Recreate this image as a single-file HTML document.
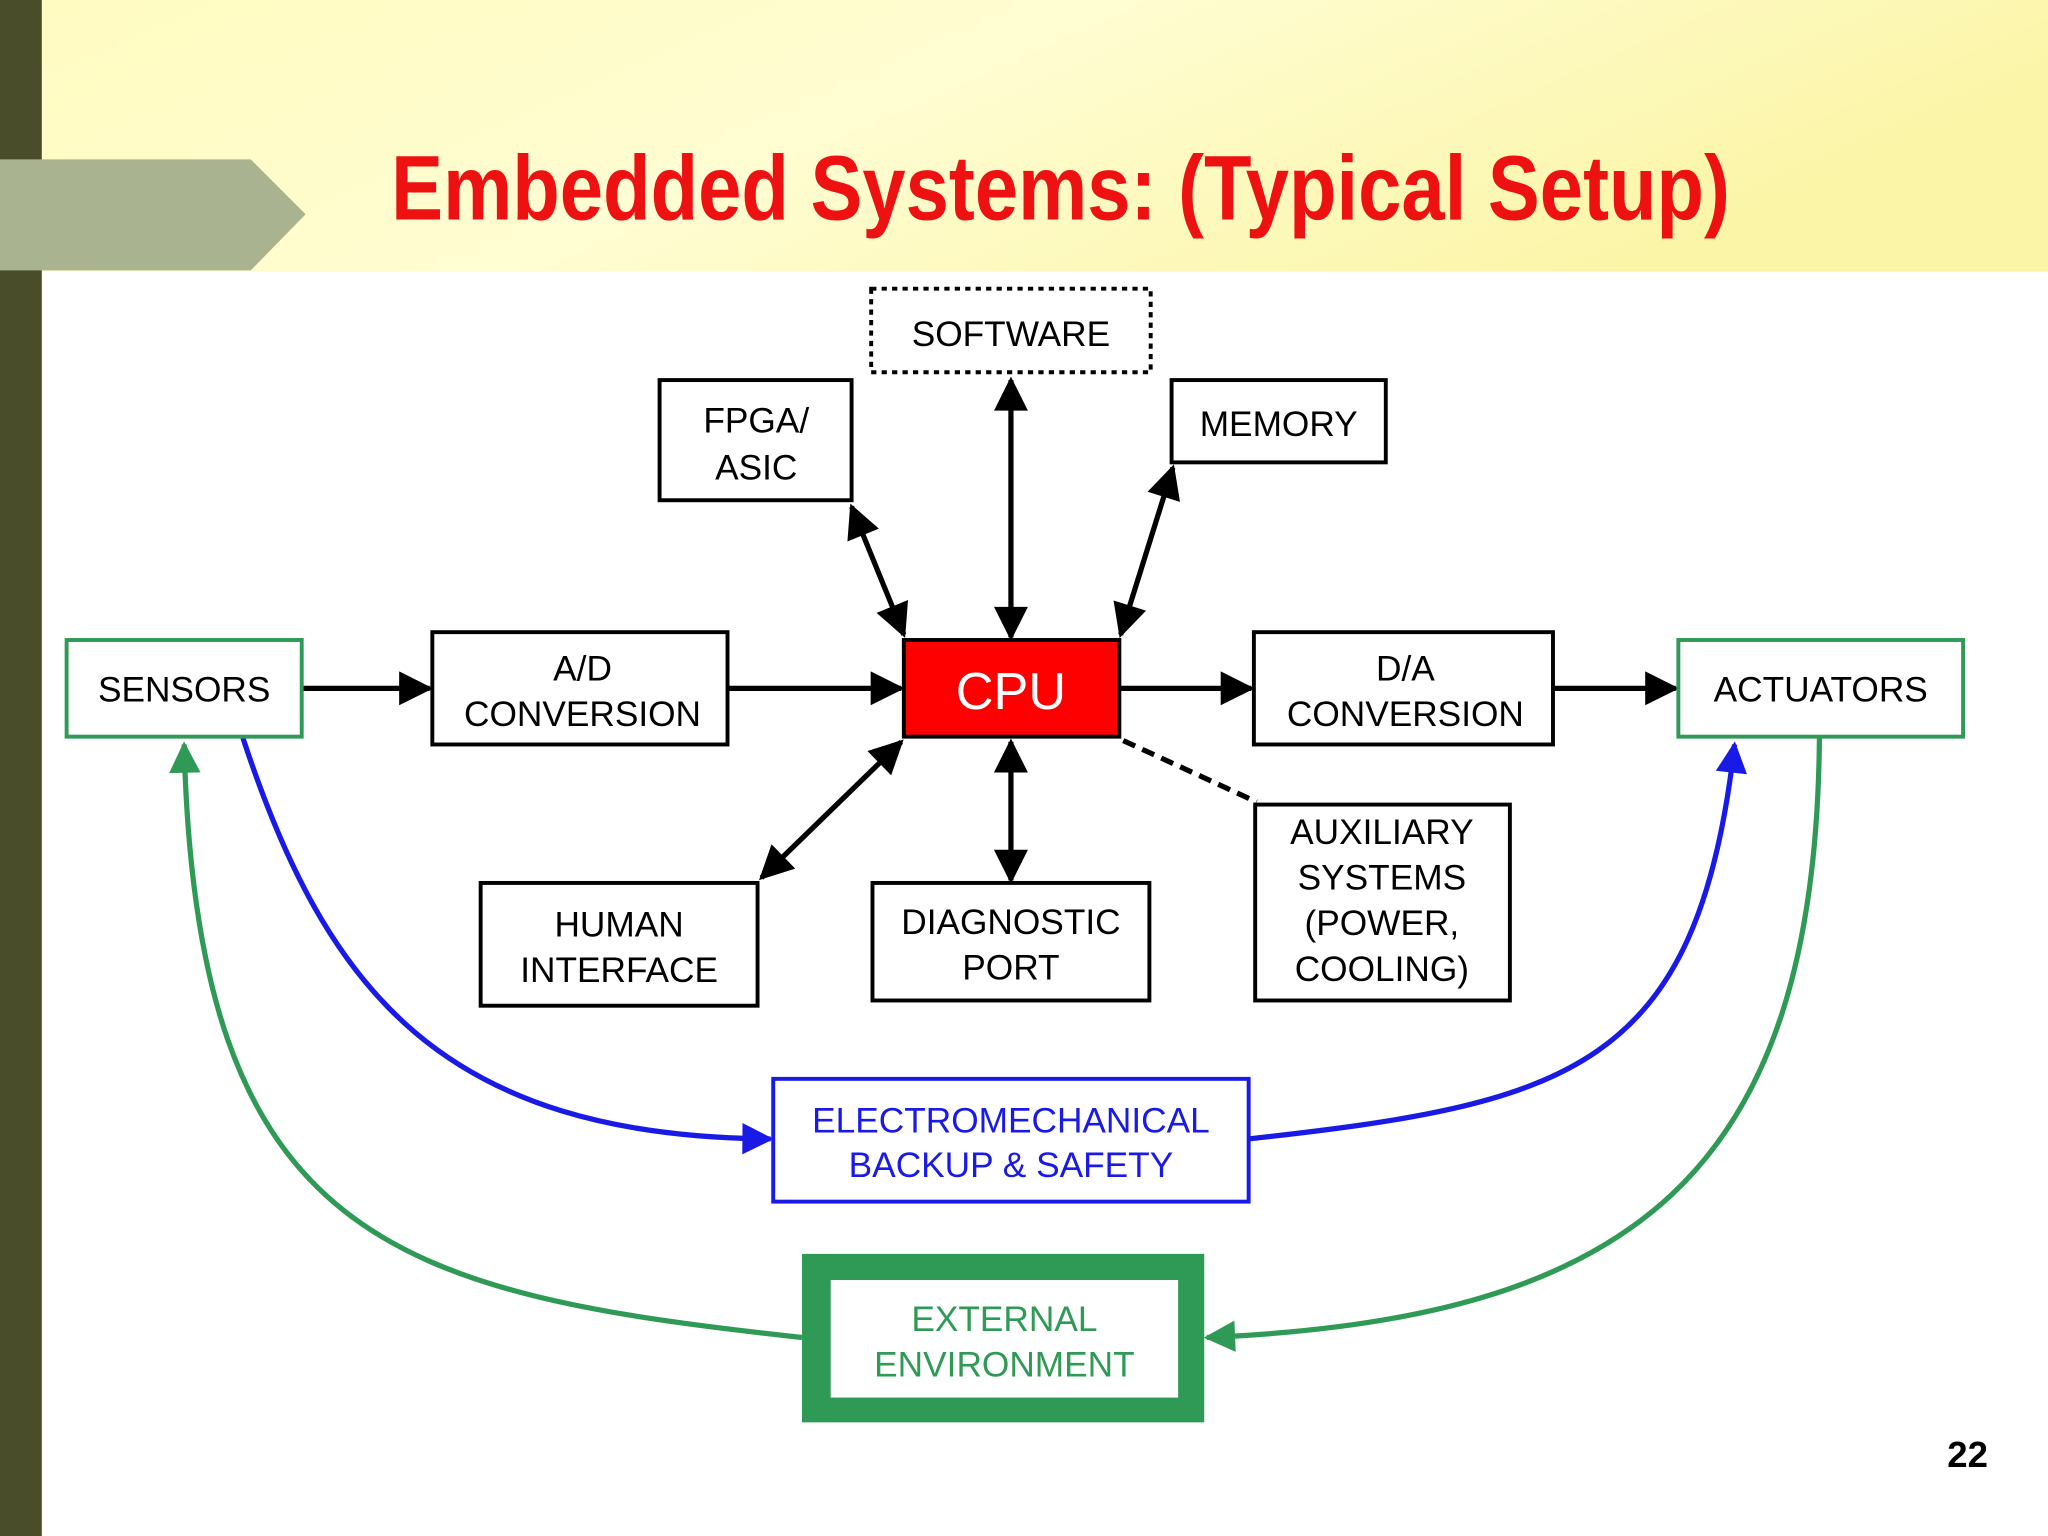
<!DOCTYPE html>
<html><head><meta charset="utf-8"><style>html,body{margin:0;padding:0;background:#fff}svg{display:block}</style></head><body>
<svg width="2048" height="1536" viewBox="0 0 1568 1176" xmlns="http://www.w3.org/2000/svg" font-family="Liberation Sans, Arial, sans-serif">
<defs>
<linearGradient id="hg" x1="0" y1="0" x2="1" y2="0.3"><stop offset="0" stop-color="#fffbc0"/><stop offset="0.5" stop-color="#fffdd2"/><stop offset="1" stop-color="#fbf5a8"/></linearGradient>
<marker id="ak" viewBox="0 0 10 10" refX="9" refY="5" markerWidth="6" markerHeight="6" markerUnits="userSpaceOnUse" orient="auto-start-reverse"><path d="M0,0 L10,5 L0,10 Z" fill="#000"/></marker>
<marker id="ab" viewBox="0 0 10 10" refX="9" refY="5" markerWidth="36" markerHeight="26" markerUnits="userSpaceOnUse" orient="auto-start-reverse"><path d="M0,0 L10,5 L0,10 Z" fill="#000"/></marker>
<marker id="abl" viewBox="0 0 10 10" refX="9" refY="5" markerWidth="34" markerHeight="24" markerUnits="userSpaceOnUse" orient="auto"><path d="M0,0 L10,5 L0,10 Z" fill="#1a1ae6"/></marker>
<marker id="agr" viewBox="0 0 10 10" refX="9" refY="5" markerWidth="34" markerHeight="24" markerUnits="userSpaceOnUse" orient="auto"><path d="M0,0 L10,5 L0,10 Z" fill="#2e9a55"/></marker>
</defs>
<rect x="0" y="0" width="1568" height="208" fill="url(#hg)"/>
<rect x="0" y="0" width="32" height="1176" fill="#4a4d2a"/>
<polygon points="0,122 192,122 234,164 192,207 0,207" fill="#a9b38f"/>
<text x="812" y="168" text-anchor="middle" font-family="Liberation Sans Narrow, Liberation Sans, sans-serif" font-weight="bold" font-size="70" fill="#ee1111" textLength="1025" lengthAdjust="spacingAndGlyphs">Embedded Systems: (Typical Setup)</text>
<text x="1522" y="1123" text-anchor="end" font-weight="bold" font-size="28" fill="#000">22</text>

<g fill="none" stroke="#000" stroke-width="4">
<line x1="231" y1="527" x2="329" y2="527" marker-end="url(#ab)"/>
<line x1="557" y1="527" x2="690" y2="527" marker-end="url(#ab)"/>
<line x1="857" y1="527" x2="958" y2="527" marker-end="url(#ab)"/>
<line x1="1189" y1="527" x2="1283" y2="527" marker-end="url(#ab)"/>
<line x1="774" y1="291" x2="774" y2="488" marker-start="url(#ab)" marker-end="url(#ab)"/>
<line x1="774" y1="568" x2="774" y2="674" marker-start="url(#ab)" marker-end="url(#ab)"/>
<line x1="652" y1="388" x2="692" y2="486" marker-start="url(#ab)" marker-end="url(#ab)"/>
<line x1="898" y1="358" x2="858" y2="486" marker-start="url(#ab)" marker-end="url(#ab)"/>
<line x1="690" y1="568" x2="583" y2="672" marker-start="url(#ab)" marker-end="url(#ab)"/>
<line x1="860" y1="567" x2="962" y2="614" stroke-dasharray="10,6"/>
</g>
<path d="M186,565 C250,760 340,870 590,872" fill="none" stroke="#1a1ae6" stroke-width="4" marker-end="url(#abl)"/>
<path d="M956,872 C1200,845 1300,820 1328,570" fill="none" stroke="#1a1ae6" stroke-width="4" marker-end="url(#abl)"/>
<path d="M614,1024 C300,990 150,950 141,570" fill="none" stroke="#2e9a55" stroke-width="4" marker-end="url(#agr)"/>
<path d="M1393,565 C1390,900 1250,1010 924,1024" fill="none" stroke="#2e9a55" stroke-width="4" marker-end="url(#agr)"/>

<g fill="#fff" stroke="#000" stroke-width="3">
<rect x="667" y="221" width="214" height="64" stroke-dasharray="4,4"/>
<rect x="505" y="291" width="147" height="92"/>
<rect x="897" y="291" width="164" height="63"/>
<rect x="331" y="484" width="226" height="86"/>
<rect x="960" y="484" width="229" height="86"/>
<rect x="368" y="676" width="212" height="94"/>
<rect x="668" y="676" width="212" height="90"/>
<rect x="961" y="616" width="195" height="150"/>
</g>
<rect x="692" y="490" width="165" height="74" fill="#f00" stroke="#000" stroke-width="3"/>
<rect x="51" y="490" width="180" height="74" fill="#fff" stroke="#2e9a55" stroke-width="3"/>
<rect x="1285" y="490" width="218" height="74" fill="#fff" stroke="#2e9a55" stroke-width="3"/>
<rect x="592" y="826" width="364" height="94" fill="#fff" stroke="#1a1ae6" stroke-width="3"/>
<rect x="614" y="960" width="308" height="129" fill="#2e9a55"/>
<rect x="636" y="980" width="266" height="90" fill="#fff"/>

<g font-size="27" fill="#000" text-anchor="middle">
<text x="774" y="265">SOFTWARE</text>
<text x="579" y="331">FPGA/</text><text x="579" y="367">ASIC</text>
<text x="979" y="334">MEMORY</text>
<text x="141" y="537">SENSORS</text>
<text x="446" y="521">A/D</text><text x="446" y="556">CONVERSION</text>
<text x="1076" y="521">D/A</text><text x="1076" y="556">CONVERSION</text>
<text x="1394" y="537">ACTUATORS</text>
<text x="474" y="717">HUMAN</text><text x="474" y="752">INTERFACE</text>
<text x="774" y="715">DIAGNOSTIC</text><text x="774" y="750">PORT</text>
<text x="1058" y="646">AUXILIARY</text><text x="1058" y="681">SYSTEMS</text><text x="1058" y="716">(POWER,</text><text x="1058" y="751">COOLING)</text>
<text x="774" y="867" fill="#1a1ae6">ELECTROMECHANICAL</text><text x="774" y="901" fill="#1a1ae6">BACKUP &amp; SAFETY</text>
<text x="769" y="1019" fill="#2e9a55">EXTERNAL</text><text x="769" y="1054" fill="#2e9a55">ENVIRONMENT</text>
<text x="774" y="543" font-size="40" fill="#fff">CPU</text>
</g>
</svg>
</body></html>
